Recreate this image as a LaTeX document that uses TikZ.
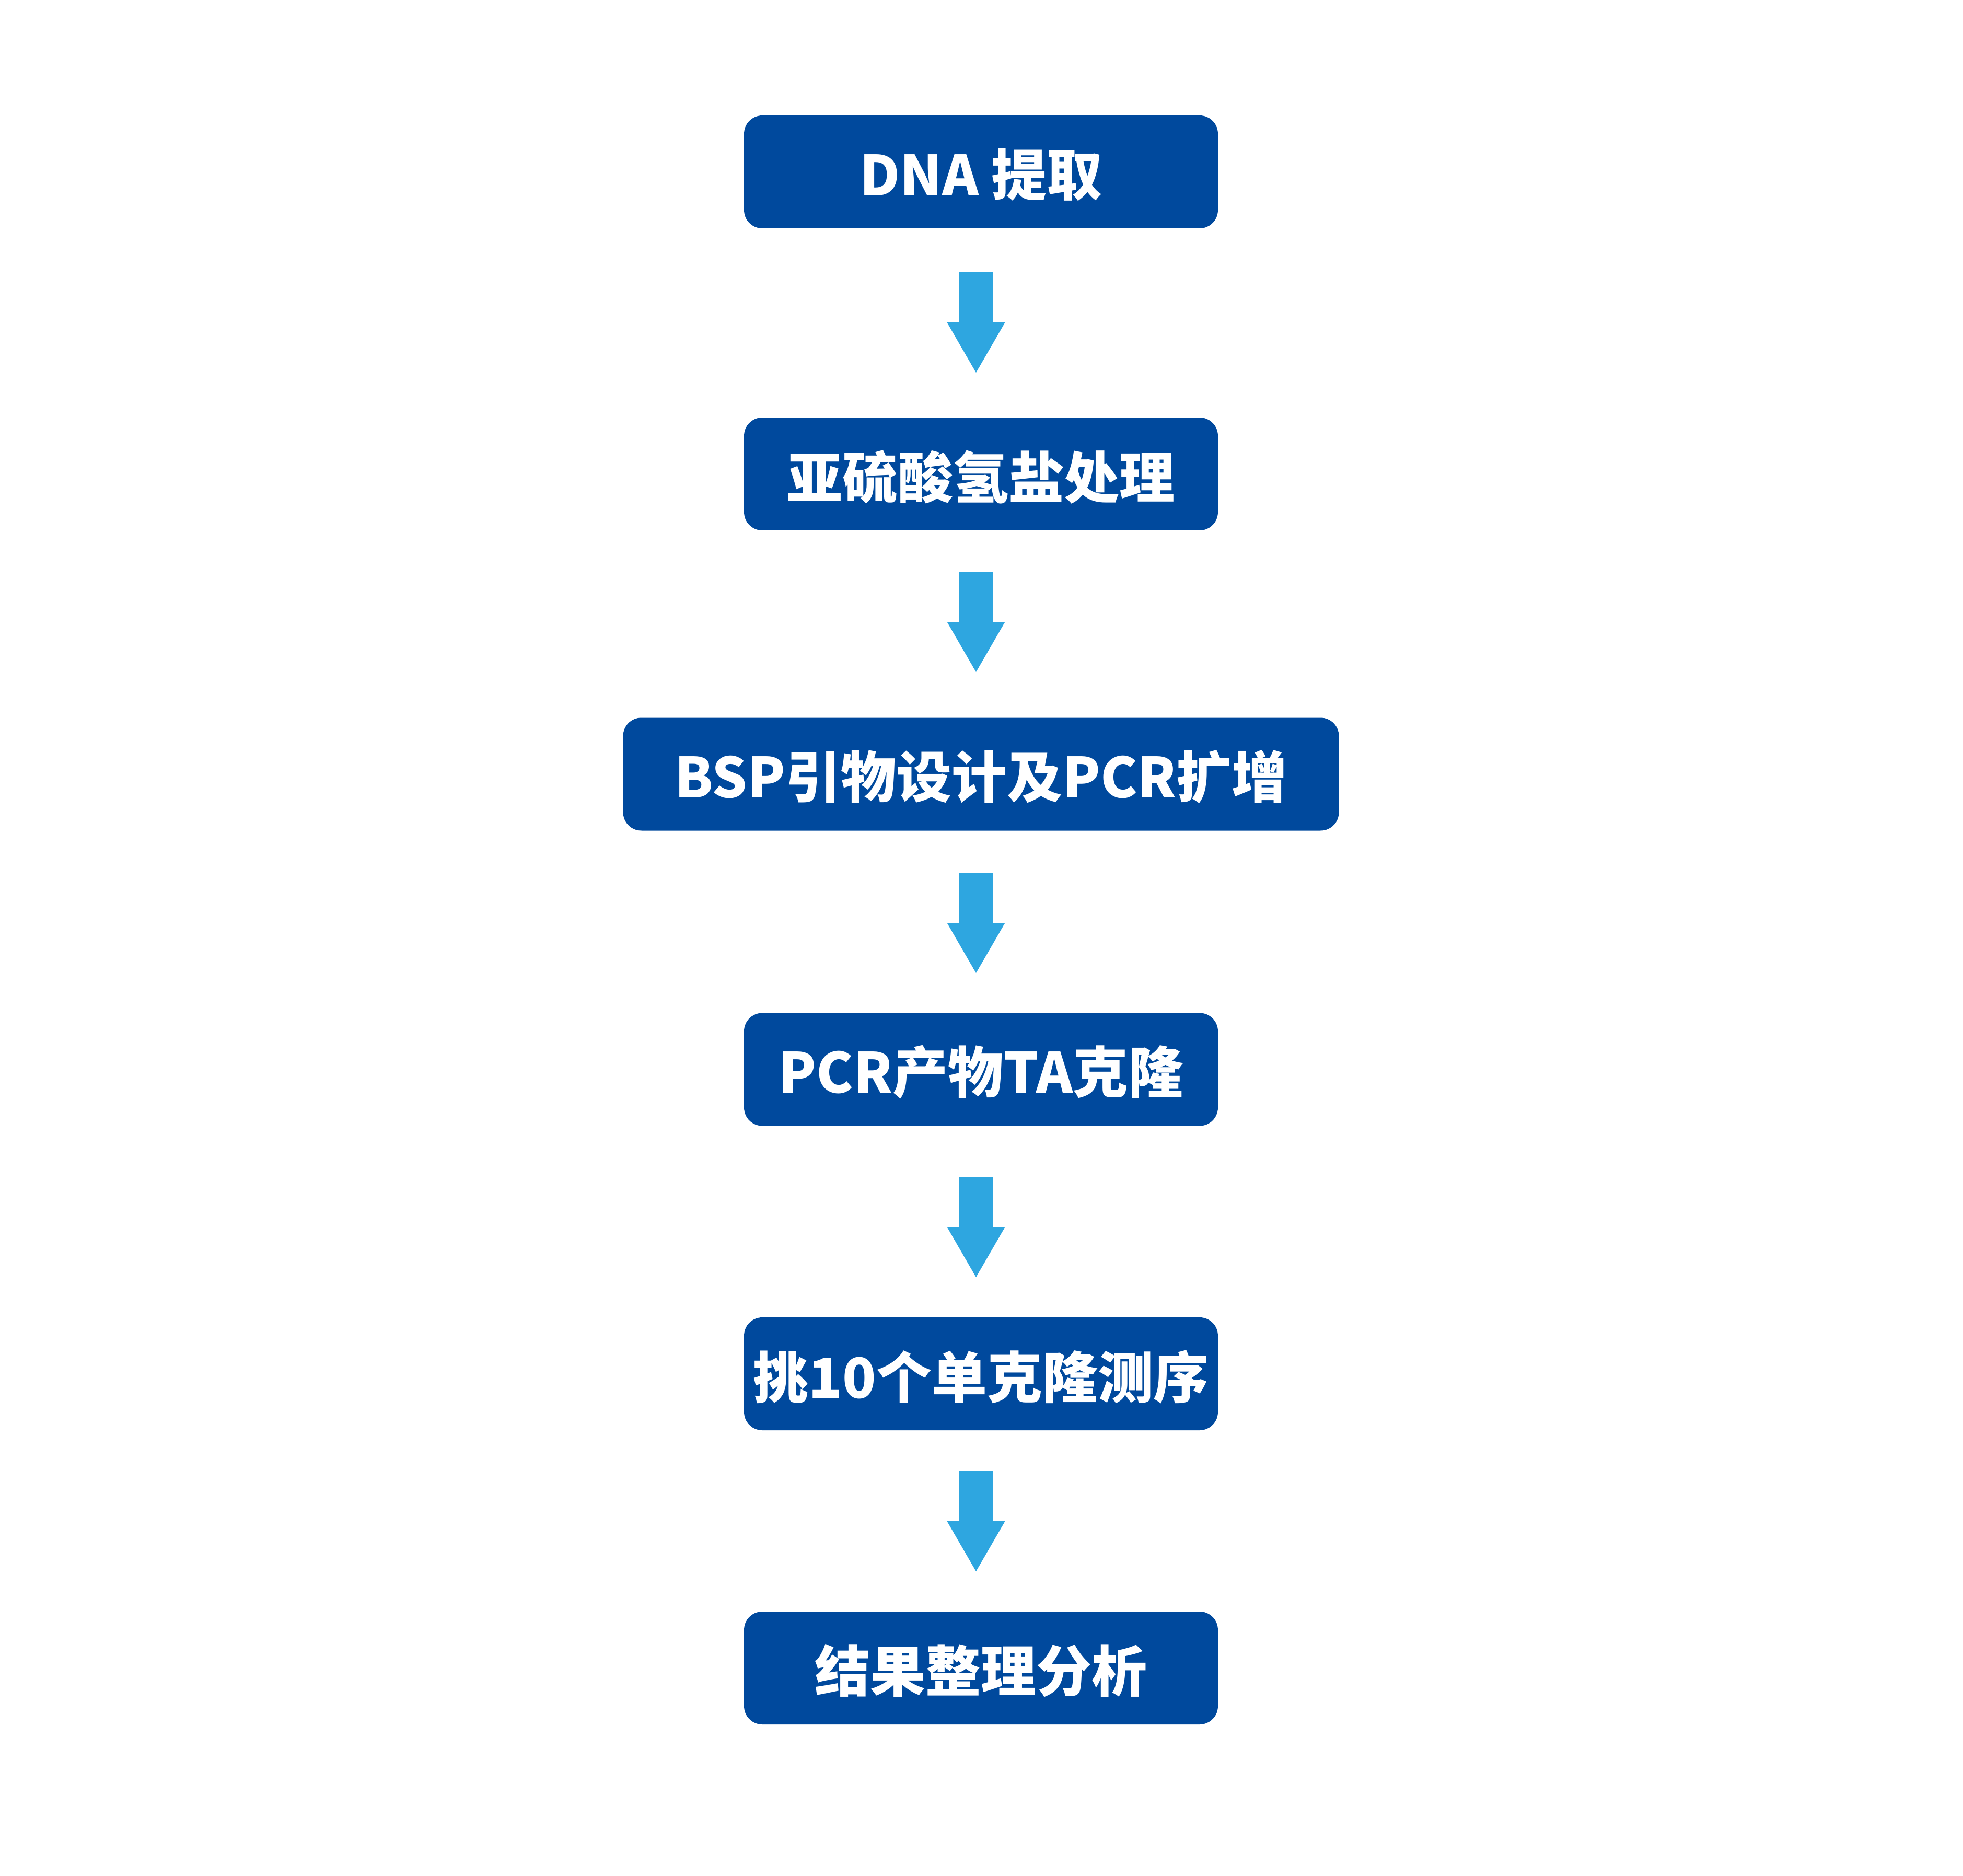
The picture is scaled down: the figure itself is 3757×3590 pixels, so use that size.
\documentclass[tikz,border=0pt]{standalone}
\usepackage{fontspec}
\newfontfamily\cjk{Noto Sans CJK SC}
\usetikzlibrary{arrows.meta}
\definecolor{boxblue}{RGB}{0,73,157}
\definecolor{arrowblue}{RGB}{46,166,224}
\newcommand\steplabel[1]{\raisebox{-0.55pt}[\height][\depth]{#1}}
\begin{document}
\begin{tikzpicture}[x=0.1pt,y=-0.1pt,
  stepbox/.style={fill=boxblue, rounded corners=3.5pt, text=white,
    font=\cjk\bfseries\fontsize{10.6pt}{12pt}\selectfont,
    minimum width=90.7pt, minimum height=21.6pt, inner sep=0pt, align=center},
  widebox/.style={stepbox, minimum width=137pt},
  flow/.style={draw=arrowblue, line width=6.6pt,
    -{Triangle[width=11.1pt,length=9.6pt,line width=0pt]}}]
\useasboundingbox (0,0) rectangle (3757,3590);
\fill[white] (0,0) rectangle (3757,3590);

\node[stepbox] (b1) at (1877.5,329) {\steplabel{DNA 提取}};
\node[stepbox] (b2) at (1877.5,907) {\steplabel{亚硫酸氢盐处理}};
\node[widebox] (b3) at (1877.5,1481.5) {\steplabel{BSP引物设计及PCR扩增}};
\node[stepbox] (b4) at (1877.5,2046.5) {\steplabel{PCR产物TA克隆}};
\node[stepbox] (b5) at (1877.5,2629) {\steplabel{挑10个单克隆测序}};
\node[stepbox] (b6) at (1877.5,3192) {\steplabel{结果整理分析}};

\coordinate (s1) at (1868,521);  \coordinate (t1) at (1868,713);
\coordinate (s2) at (1868,1095); \coordinate (t2) at (1868,1286);
\coordinate (s3) at (1868,1671); \coordinate (t3) at (1868,1862);
\coordinate (s4) at (1868,2253); \coordinate (t4) at (1868,2444);
\coordinate (s5) at (1868,2815); \coordinate (t5) at (1868,3007);

\draw[flow] (s1) -- (t1);
\draw[flow] (s2) -- (t2);
\draw[flow] (s3) -- (t3);
\draw[flow] (s4) -- (t4);
\draw[flow] (s5) -- (t5);
\end{tikzpicture}
\end{document}
